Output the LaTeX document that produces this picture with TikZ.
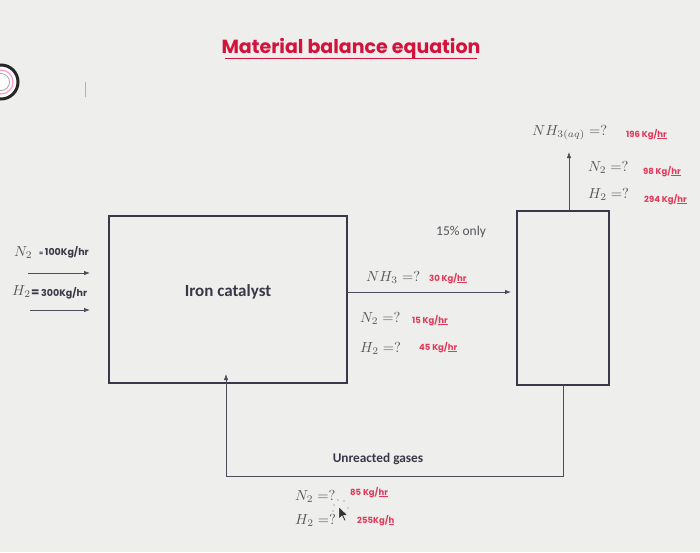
\documentclass[tikz,border=0pt]{standalone}
\usepackage{graphicx}
\usepackage{fontspec}
\setmainfont{Latin Modern Roman}
\newfontfamily\pop{Poppins}[UprightFont=* SemiBold,BoldFont=* Bold]
\newfontfamily\carl{Carlito}
\newcommand\eqn[1]{\scalebox{1.45}{$#1$}}
\newcommand\ul[1]{\underline{#1}}
\usetikzlibrary{arrows.meta}
\definecolor{bg}{HTML}{EEEEEC}
\definecolor{red1}{HTML}{D3133C}
\definecolor{red2}{HTML}{E2385A}
\definecolor{ink}{HTML}{3A3848}
\definecolor{mgray}{HTML}{55555C}
\begin{document}
\begin{tikzpicture}[x=1pt,y=-1pt,
  box/.style={draw=ink,line width=1.6pt},
  flow/.style={draw=ink!90,line width=0.8pt},
  arr/.style={flow,-{Latex[length=6pt,width=4.5pt]}},
  eq/.style={text=mgray,inner sep=0pt,anchor=base west},
  rate/.style={text=red2,inner sep=0pt,anchor=base west,font=\pop\bfseries\fontsize{8.5}{10}\selectfont},
  feed/.style={text=ink,inner sep=0pt,anchor=base west,font=\pop\bfseries\fontsize{9.5}{10}\selectfont}]
\fill[bg] (0,0) rectangle (700,552);
\useasboundingbox (0,0) rectangle (700,552);
% title
\node[text=red1,font=\pop\bfseries\fontsize{19}{22}\selectfont,inner sep=0pt,anchor=base] (title) at (351,53) {Material balance equation};
\draw[red1,line width=0.8pt] (225,58) -- (477,58);
% decorations
\draw[black!85,line width=3pt,fill=white] (1,82) circle (17);
\draw[red!50!magenta!40,line width=1.2pt] (1,82) circle (12);
\draw[gray!70,line width=0.8pt] (1,82) circle (8.5);
\draw[gray!60,line width=0.6pt] (85,82) -- (85,97);
% boxes
\draw[box] (109,216) rectangle (347,383);
\node[font=\carl\bfseries\fontsize{17}{19}\selectfont,text=ink,inner sep=0pt] (cat) at (228,292) {Iron catalyst};
\coordinate (catR) at (347,292);
\coordinate (catB) at (226,383);
\draw[box] (517,211) rectangle (609,385);
\coordinate (sepL) at (517,292);
\coordinate (sepT) at (569,211);
\coordinate (sepB) at (563,385);
% main flows
\draw[arr] (catR) -- ([xshift=-6pt]sepL);
\coordinate (top) at (569,152);
\draw[arr] (sepT) -- (top);
\coordinate (c1) at (563,476);
\coordinate (c2) at (226,476);
\draw[flow,-{Latex[length=6pt,width=4.5pt]}] (sepB) -- (c1) -- (c2) -- ([yshift=9pt]catB);
% feed
\node[eq] (n2in) at (14,256) {\eqn{N_2}};
\node[feed] (n2r) at (39,255) {\fontsize{6}{8}\selectfont=\fontsize{9.5}{10}\selectfont\,100Kg/hr};
\coordinate (a1s) at (28,273); \coordinate (a1e) at (90,273);
\draw[arr] (a1s) -- (a1e);
\node[eq] (h2in) at (12,295) {\eqn{H_2}};
\node[feed] (h2r) at (31,296) {\fontsize{12}{12}\selectfont=\fontsize{9.5}{10}\selectfont\,300Kg/hr};
\coordinate (a2s) at (30,310); \coordinate (a2e) at (90,310);
\draw[arr] (a2s) -- (a2e);
% reactor out
\node[font=\carl\fontsize{13.5}{15}\selectfont,text=mgray,inner sep=0pt,anchor=base west] (pct) at (436,235) {15\% only};
\node[eq] (nh3) at (366,281) {\eqn{NH_3 =?}};
\node[rate] (nh3r) at (429,281) {30 Kg/\ul{hr}};
\node[eq] (n2o) at (360,322) {\eqn{N_2 =?}};
\node[rate] (n2or) at (412,323) {15 Kg/\ul{hr}};
\node[eq] (h2o) at (360,352) {\eqn{H_2 =?}};
\node[rate] (h2or) at (419,350) {45 Kg/\ul{hr}};
% separator top
\node[eq] (nh3aq) at (532,135) {\eqn{NH_{3(aq)} =?}};
\node[rate] (nh3aqr) at (626,137) {196 Kg/\ul{hr}};
\node[eq] (n2t) at (588,171) {\eqn{N_2 =?}};
\node[rate] (n2tr) at (643,174) {98 Kg/\ul{hr}};
\node[eq] (h2t) at (588,198) {\eqn{H_2 =?}};
\node[rate] (h2tr) at (644,202) {294 Kg/\ul{hr}};
% recycle
\node[font=\carl\bfseries\fontsize{13.3}{15}\selectfont,text=ink,inner sep=0pt] (unr) at (378,459) {Unreacted gases};
\node[eq] (n2b) at (295,500) {\eqn{N_2 =?}};
\node[rate] (n2br) at (350,495) {85 Kg/\ul{hr}};
\node[eq] (h2b) at (295,524) {\eqn{H_2 =?}};
\node[rate] (h2br) at (357,523) {255Kg/\ul{h}};
% mouse cursor
\fill[black!80,draw=white,line width=0.4pt] (339,507) -- (339,519) -- (342,516) -- (344.5,521) -- (346,520.3) -- (343.5,515.5) -- (347.5,515) -- cycle;
\foreach \p in {(334,505),(338,500),(344,501),(333,511),(348,508)} \fill[black!60] \p circle (0.7);
\end{tikzpicture}
\end{document}
